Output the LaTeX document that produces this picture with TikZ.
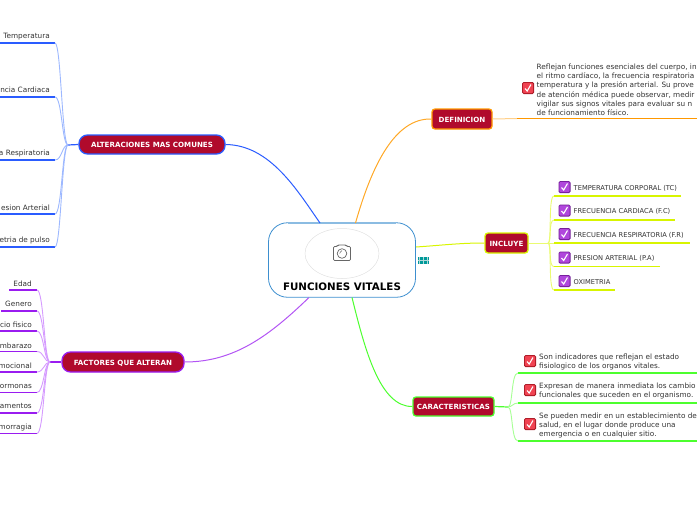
\documentclass[tikz,border=0pt]{standalone}
\usepackage{fontspec}
\usetikzlibrary{shapes.geometric}
\setmainfont{DejaVu Sans}

\definecolor{alt}{HTML}{2A5CFF}
\definecolor{altl}{HTML}{9DB8FF}
\definecolor{fac}{HTML}{9A1CF0}
\definecolor{facl}{HTML}{D59BFF}
\definecolor{dfn}{HTML}{FF9800}
\definecolor{dfnl}{HTML}{FFD08A}
\definecolor{inc}{HTML}{D8F500}
\definecolor{incl}{HTML}{EAFB70}
\definecolor{car}{HTML}{4CFF2E}
\definecolor{carl}{HTML}{A6FF94}
\definecolor{branchred}{HTML}{B00A2C}
\definecolor{centerline}{HTML}{3D8FCF}
\definecolor{leaftext}{HTML}{333333}
\definecolor{chkred}{HTML}{EE2233}
\definecolor{chkpurple}{HTML}{A226D6}

\tikzset{
  branch/.style = {draw = #1, line width = 1.3pt, fill = branchred, text = white,
    font = \fontsize{7.1}{8}\selectfont\bfseries, inner sep = 0, anchor = center,
    text height = 7pt, text depth = 0.2pt},
  leaftxt/.style = {text = leaftext, font = \fontsize{7.3}{9.1}\selectfont, inner sep = 0, yshift = -0.8pt},
  smalltxt/.style = {text = leaftext, font = \fontsize{6.7}{8}\selectfont, inner sep = 0, yshift = -0.8pt},
  chk/.pic = {
    \fill[#1!70!black, rounded corners = 1.5pt] (-6,-6) rectangle (6,6);
    \fill[#1!85!white, rounded corners = 1.2pt] (-5.2,-5.2) rectangle (5.2,5.2);
    \draw[white, line width = 1.1pt] (-3,0.5) -- (-0.8,3) -- (3,-3.5);
  }
}

\begin{document}
\begin{tikzpicture}[x = 1pt, y = -1pt, >= latex]
  \useasboundingbox (0,0) rectangle (697,520);
  \clip (0,0) rectangle (697,520);

  % centre
  \node (centre) [draw = centerline, line width = 0.8pt, rounded corners = 19pt,
    minimum width = 147pt, minimum height = 74.5pt, inner sep = 0] at (342,260) {};
  \draw[centerline!60, line width = 1.2pt] (288,223) -- (396,223);
  \node (photo) [draw = black!12, line width = 0.5pt, ellipse, minimum width = 74pt,
    minimum height = 50pt, inner sep = 0] at (342,253.5) {};
  \node (title) [font = \fontsize{10.3}{12}\selectfont\bfseries, inner sep = 0] at (342,286.8) {FUNCIONES VITALES};
  \draw[black!60, line width = 0.7pt, rounded corners = 1.2pt]
    (333.5,246.5) -- (337,246.5) -- (338,245) -- (346,245) -- (347,246.5) -- (350.5,246.5) -- (350.5,260.5) -- (333.5,260.5) -- cycle;
  \draw[black!60, line width = 0.7pt] (342,253.5) circle (4.8);
  \draw[black!60, line width = 0.5pt] (339.5,253) to [out = -80, in = 180] (342,250.5);
  \node (grid) [fill = teal!80!cyan, minimum width = 11pt, minimum height = 7pt, inner sep = 0] at (423,260.5) {};
  \draw[white!70!teal, line width = 0.3pt] (419.3,257) -- (419.3,264) (423,257) -- (423,264) (426.7,257) -- (426.7,264) (417.5,260.5) -- (428.5,260.5);

  % branches
  \node (altb) [branch = alt, rounded corners = 8.5pt, minimum width = 146pt, minimum height = 19pt] at (152,144.5) {ALTERACIONES MAS COMUNES};
  \node (facb) [branch = fac, rounded corners = 8.5pt, minimum width = 122pt, minimum height = 20pt] at (123,362) {FACTORES QUE ALTERAN};
  \node (dfnb) [branch = dfn, rounded corners = 3pt, minimum width = 60pt, minimum height = 20pt] at (462,119) {DEFINICION};
  \node (incb) [branch = inc, rounded corners = 3pt, minimum width = 43pt, minimum height = 20pt] at (506.5,243) {INCLUYE};
  \node (carb) [branch = car, rounded corners = 3pt, minimum width = 81pt, minimum height = 19pt] at (453.5,406.5) {CARACTERISTICAS};

  % main links
  \coordinate (cblue) at (320,223);
  \coordinate (corange) at (355.5,223);
  \coordinate (cyellow) at (416,247);
  \coordinate (cgreen) at (352,297.5);
  \coordinate (cpurple) at (309,297.5);
  \draw[alt, line width = 1pt] (altb.east) .. controls (270,145) and (297,190) .. (cblue);
  \draw[fac!75!white, line width = 1pt] (facb.east) .. controls (235,362) and (270,335) .. (cpurple);
  \draw[dfn!85!white, line width = 1pt] (corange) .. controls (372,165) and (395,118) .. (dfnb.west);
  \draw[inc, line width = 1pt] (cyellow) .. controls (445,245) and (460,243) .. (incb.west);
  \draw[car, line width = 1pt] (cgreen) .. controls (365,350) and (380,407) .. (carb.west);

  % alteraciones
  \coordinate (altj) at (68,145);
  \draw[alt, line width = 1.2pt] (altb.west) -- (altj);
  \node (alt1) [leaftxt, anchor = east] at (50,35.5) {Temperatura};
  \node (alt2) [leaftxt, anchor = east] at (50,89) {ncia Cardiaca};
  \node (alt3) [leaftxt, anchor = east] at (50,152.5) {a Respiratoria};
  \node (alt4) [leaftxt, anchor = east] at (50,206.5) {esion Arterial};
  \node (alt5) [leaftxt, anchor = east] at (50,239.5) {etria de pulso};
  \coordinate (alt1a) at (0,43);
  \coordinate (alt1b) at (55,43);
  \coordinate (alt2a) at (0,97);
  \coordinate (alt2b) at (55,97);
  \coordinate (alt3a) at (0,160);
  \coordinate (alt3b) at (55,160);
  \coordinate (alt4a) at (0,214);
  \coordinate (alt4b) at (55,214);
  \coordinate (alt5a) at (0,247);
  \coordinate (alt5b) at (55,247);
  \draw[alt, line width = 1.4pt] (alt1a) -- (alt1b) (alt2a) -- (alt2b) (alt3a) -- (alt3b) (alt4a) -- (alt4b) (alt5a) -- (alt5b);
  \draw[altl, line width = 0.9pt] (altj) .. controls (62,145) and (61,43) .. (alt1b);
  \draw[altl, line width = 0.9pt] (altj) .. controls (62,145) and (62,97) .. (alt2b);
  \draw[altl, line width = 0.9pt] (altj) .. controls (62,145) and (62,160) .. (alt3b);
  \draw[altl, line width = 0.9pt] (altj) .. controls (62,145) and (62,214) .. (alt4b);
  \draw[altl, line width = 0.9pt] (altj) .. controls (62,145) and (61,247) .. (alt5b);

  % factores
  \coordinate (facj) at (50,362);
  \draw[fac, line width = 1.4pt] (facb.west) -- (facj);
  \node (fac1) [leaftxt, anchor = east] at (32,282.5) {Edad};
  \node (fac2) [leaftxt, anchor = east] at (32,303) {Genero};
  \node (fac3) [leaftxt, anchor = east] at (32,323.5) {cio fisico};
  \node (fac4) [leaftxt, anchor = east] at (32,344.5) {mbarazo};
  \node (fac5) [leaftxt, anchor = east] at (32,364.5) {mocional};
  \node (fac6) [leaftxt, anchor = east] at (32,385.5) {ormonas};
  \node (fac7) [leaftxt, anchor = east] at (32,405.5) {amentos};
  \node (fac8) [leaftxt, anchor = east] at (32,426.5) {morragia};
  \coordinate (fac1a) at (9,290);
  \coordinate (fac1b) at (37,290);
  \coordinate (fac2a) at (1,311);
  \coordinate (fac2b) at (37,311);
  \coordinate (fac3a) at (0,331);
  \coordinate (fac3b) at (37,331);
  \coordinate (fac4a) at (0,351.5);
  \coordinate (fac4b) at (37,351.5);
  \coordinate (fac5a) at (0,372);
  \coordinate (fac5b) at (37,372);
  \coordinate (fac6a) at (0,392.5);
  \coordinate (fac6b) at (37,392.5);
  \coordinate (fac7a) at (0,413);
  \coordinate (fac7b) at (37,413);
  \coordinate (fac8a) at (0,433.5);
  \coordinate (fac8b) at (37,433.5);
  \draw[fac, line width = 1.4pt] (fac1a) -- (fac1b) (fac2a) -- (fac2b) (fac3a) -- (fac3b) (fac4a) -- (fac4b)
    (fac5a) -- (fac5b) (fac6a) -- (fac6b) (fac7a) -- (fac7b) (fac8a) -- (fac8b);
  \draw[facl, line width = 0.9pt] (facj) .. controls (44,362) and (44,290) .. (fac1b);
  \draw[facl, line width = 0.9pt] (facj) .. controls (44,362) and (44,311) .. (fac2b);
  \draw[facl, line width = 0.9pt] (facj) .. controls (44,362) and (44,331) .. (fac3b);
  \draw[facl, line width = 0.9pt] (facj) .. controls (44,362) and (44,351.5) .. (fac4b);
  \draw[facl, line width = 0.9pt] (facj) .. controls (44,362) and (44,372) .. (fac5b);
  \draw[facl, line width = 0.9pt] (facj) .. controls (44,362) and (44,392.5) .. (fac6b);
  \draw[facl, line width = 0.9pt] (facj) .. controls (44,362) and (44,413) .. (fac7b);
  \draw[facl, line width = 0.9pt] (facj) .. controls (44,362) and (44,433.5) .. (fac8b);

  % definicion
  \coordinate (dfna) at (517,118.5);
  \coordinate (dfnz) at (697,118.5);
  \draw[dfnl, line width = 1pt] (dfnb.east) -- (dfna);
  \draw[dfn, line width = 1.4pt] (dfna) -- (dfnz);
  \pic (dfnc) at (528,88) {chk = chkred};
  \node (dfnt) [leaftxt, anchor = west, align = left] at (536.5,89) {Reflejan funciones esenciales del cuerpo, in\\
    el ritmo cardíaco, la frecuencia respiratoria\\
    temperatura y la presión arterial. Su prove\\
    de atención médica puede observar, medir\\
    vigilar sus signos vitales para evaluar su n\\
    de funcionamiento físico.};

  % incluye
  \coordinate (incj) at (548,243);
  \draw[incl, line width = 0.9pt] (incb.east) -- (incj);
  \node (inc1) [smalltxt, anchor = west] at (573.5,187.5) {TEMPERATURA CORPORAL (TC)};
  \node (inc2) [smalltxt, anchor = west] at (573.5,210.5) {FRECUENCIA CARDIACA (F.C)};
  \node (inc3) [smalltxt, anchor = west] at (573.5,234.5) {FRECUENCIA RESPIRATORIA (F.R)};
  \node (inc4) [smalltxt, anchor = west] at (573.5,257.5) {PRESION ARTERIAL (P.A)};
  \node (inc5) [smalltxt, anchor = west] at (573.5,281.5) {OXIMETRIA};
  \pic (inc1c) at (564.5,187) {chk = chkpurple};
  \pic (inc2c) at (564.5,210.5) {chk = chkpurple};
  \pic (inc3c) at (564.5,234) {chk = chkpurple};
  \pic (inc4c) at (564.5,257.5) {chk = chkpurple};
  \pic (inc5c) at (564.5,281) {chk = chkpurple};
  \coordinate (inc1a) at (554,196);
  \coordinate (inc1b) at (681,196);
  \coordinate (inc2a) at (554,220);
  \coordinate (inc2b) at (675,220);
  \coordinate (inc3a) at (554,243);
  \coordinate (inc3b) at (690,243);
  \coordinate (inc4a) at (554,266.7);
  \coordinate (inc4b) at (660,266.7);
  \coordinate (inc5a) at (554,290);
  \coordinate (inc5b) at (615,290);
  \draw[inc, line width = 1.4pt] (inc1a) -- (inc1b) (inc2a) -- (inc2b) (inc3a) -- (inc3b) (inc4a) -- (inc4b) (inc5a) -- (inc5b);
  \draw[incl, line width = 0.9pt] (incj) .. controls (552,243) and (548,196) .. (inc1a);
  \draw[incl, line width = 0.9pt] (incj) .. controls (552,243) and (548,220) .. (inc2a);
  \draw[incl, line width = 0.9pt] (incj) .. controls (551,243) and (551,243) .. (inc3a);
  \draw[incl, line width = 0.9pt] (incj) .. controls (552,243) and (548,266.7) .. (inc4a);
  \draw[incl, line width = 0.9pt] (incj) .. controls (552,243) and (548,290) .. (inc5a);

  % caracteristicas
  \coordinate (carj) at (508,407);
  \draw[car, line width = 1.2pt] (carb.east) -- (carj);
  \pic (car1c) at (530,361) {chk = chkred};
  \pic (car2c) at (530,390) {chk = chkred};
  \pic (car3c) at (530,424) {chk = chkred};
  \node (car1) [leaftxt, anchor = west, align = left] at (539,361) {Son indicadores que reflejan el estado\\fisiologico de los organos vitales.};
  \node (car2) [leaftxt, anchor = west, align = left] at (539,390.5) {Expresan de manera inmediata los cambio\\funcionales que suceden en el organismo.};
  \node (car3) [leaftxt, anchor = west, align = left] at (539,424.5) {Se pueden medir en un establecimiento de\\salud, en el lugar donde produce una\\emergencia o en cualquier sitio.};
  \coordinate (car1a) at (518,373);
  \coordinate (car1b) at (697,373);
  \coordinate (car2a) at (518,403);
  \coordinate (car2b) at (697,403);
  \coordinate (car3a) at (518,441);
  \coordinate (car3b) at (697,441);
  \draw[car, line width = 1.5pt] (car1a) -- (car1b) (car2a) -- (car2b) (car3a) -- (car3b);
  \draw[carl, line width = 0.9pt] (carj) .. controls (513,407) and (511,373) .. (car1a);
  \draw[carl, line width = 0.9pt] (carj) .. controls (512,407) and (513,403) .. (car2a);
  \draw[carl, line width = 0.9pt] (carj) .. controls (513,407) and (511,441) .. (car3a);
\end{tikzpicture}
\end{document}
